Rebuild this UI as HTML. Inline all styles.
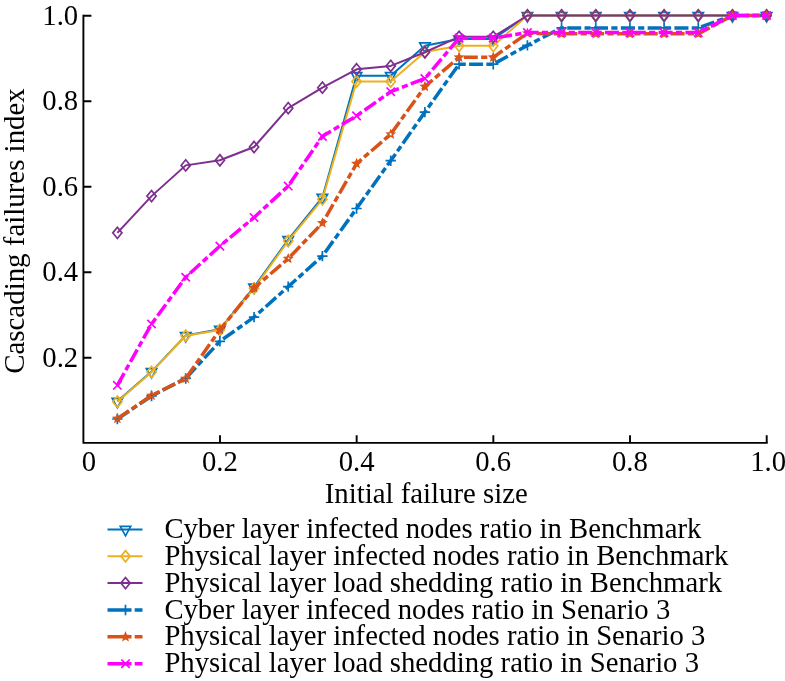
<!DOCTYPE html>
<html lang="en"><head><meta charset="utf-8"><title>Cascading failures index</title>
<style>
html,body{margin:0;padding:0;background:#fff}
svg{display:block}
text{font-family:"Liberation Serif","Times New Roman",serif;font-size:28.7px;fill:#000}
</style></head><body>
<svg width="785" height="681" viewBox="0 0 785 681">
<rect width="785" height="681" fill="#fff"/>

<polyline points="117.37,401.29 151.54,371.62 185.71,335.54 219.88,329.35 254.05,287.07 288.22,239.68 322.39,197.40 356.56,75.71 390.73,75.71 424.90,45.82 459.07,38.99 493.24,38.99 527.41,15.50 561.58,15.50 595.75,15.50 629.92,15.50 664.09,15.50 698.26,15.50 732.43,15.50 766.60,15.50" fill="none" stroke="#0072BD" stroke-width="2.0" stroke-linejoin="round"/>
<path d="M112.17 398.29L122.57 398.29L117.37 407.69Z" fill="none" stroke="#0072BD" stroke-width="1.7" stroke-linejoin="miter"/>
<path d="M146.34 368.62L156.74 368.62L151.54 378.02Z" fill="none" stroke="#0072BD" stroke-width="1.7" stroke-linejoin="miter"/>
<path d="M180.51 332.54L190.91 332.54L185.71 341.94Z" fill="none" stroke="#0072BD" stroke-width="1.7" stroke-linejoin="miter"/>
<path d="M214.68 326.35L225.08 326.35L219.88 335.75Z" fill="none" stroke="#0072BD" stroke-width="1.7" stroke-linejoin="miter"/>
<path d="M248.85 284.07L259.25 284.07L254.05 293.47Z" fill="none" stroke="#0072BD" stroke-width="1.7" stroke-linejoin="miter"/>
<path d="M283.02 236.68L293.42 236.68L288.22 246.08Z" fill="none" stroke="#0072BD" stroke-width="1.7" stroke-linejoin="miter"/>
<path d="M317.19 194.40L327.59 194.40L322.39 203.80Z" fill="none" stroke="#0072BD" stroke-width="1.7" stroke-linejoin="miter"/>
<path d="M351.36 72.71L361.76 72.71L356.56 82.11Z" fill="none" stroke="#0072BD" stroke-width="1.7" stroke-linejoin="miter"/>
<path d="M385.53 72.71L395.93 72.71L390.73 82.11Z" fill="none" stroke="#0072BD" stroke-width="1.7" stroke-linejoin="miter"/>
<path d="M419.70 42.82L430.10 42.82L424.90 52.22Z" fill="none" stroke="#0072BD" stroke-width="1.7" stroke-linejoin="miter"/>
<path d="M453.87 35.99L464.27 35.99L459.07 45.39Z" fill="none" stroke="#0072BD" stroke-width="1.7" stroke-linejoin="miter"/>
<path d="M488.04 35.99L498.44 35.99L493.24 45.39Z" fill="none" stroke="#0072BD" stroke-width="1.7" stroke-linejoin="miter"/>
<path d="M522.21 12.50L532.61 12.50L527.41 21.90Z" fill="none" stroke="#0072BD" stroke-width="1.7" stroke-linejoin="miter"/>
<path d="M556.38 12.50L566.78 12.50L561.58 21.90Z" fill="none" stroke="#0072BD" stroke-width="1.7" stroke-linejoin="miter"/>
<path d="M590.55 12.50L600.95 12.50L595.75 21.90Z" fill="none" stroke="#0072BD" stroke-width="1.7" stroke-linejoin="miter"/>
<path d="M624.72 12.50L635.12 12.50L629.92 21.90Z" fill="none" stroke="#0072BD" stroke-width="1.7" stroke-linejoin="miter"/>
<path d="M658.89 12.50L669.29 12.50L664.09 21.90Z" fill="none" stroke="#0072BD" stroke-width="1.7" stroke-linejoin="miter"/>
<path d="M693.06 12.50L703.46 12.50L698.26 21.90Z" fill="none" stroke="#0072BD" stroke-width="1.7" stroke-linejoin="miter"/>
<path d="M727.23 12.50L737.63 12.50L732.43 21.90Z" fill="none" stroke="#0072BD" stroke-width="1.7" stroke-linejoin="miter"/>
<path d="M761.40 12.50L771.80 12.50L766.60 21.90Z" fill="none" stroke="#0072BD" stroke-width="1.7" stroke-linejoin="miter"/>
<polyline points="117.37,401.72 151.54,372.05 185.71,335.75 219.88,329.90 254.05,288.35 288.22,240.96 322.39,199.32 356.56,81.51 390.73,81.51 424.90,52.01 459.07,45.82 493.24,45.82 527.41,15.50 561.58,15.50 595.75,15.50 629.92,15.50 664.09,15.50 698.26,15.50 732.43,15.50 766.60,15.50" fill="none" stroke="#EDB120" stroke-width="2.0" stroke-linejoin="round"/>
<path d="M117.37 396.12L121.97 401.72L117.37 407.32L112.77 401.72Z" fill="none" stroke="#EDB120" stroke-width="1.7" stroke-linejoin="miter"/>
<path d="M151.54 366.44L156.14 372.05L151.54 377.65L146.94 372.05Z" fill="none" stroke="#EDB120" stroke-width="1.7" stroke-linejoin="miter"/>
<path d="M185.71 330.15L190.31 335.75L185.71 341.35L181.11 335.75Z" fill="none" stroke="#EDB120" stroke-width="1.7" stroke-linejoin="miter"/>
<path d="M219.88 324.30L224.48 329.90L219.88 335.50L215.28 329.90Z" fill="none" stroke="#EDB120" stroke-width="1.7" stroke-linejoin="miter"/>
<path d="M254.05 282.75L258.65 288.35L254.05 293.95L249.45 288.35Z" fill="none" stroke="#EDB120" stroke-width="1.7" stroke-linejoin="miter"/>
<path d="M288.22 235.36L292.82 240.96L288.22 246.56L283.62 240.96Z" fill="none" stroke="#EDB120" stroke-width="1.7" stroke-linejoin="miter"/>
<path d="M322.39 193.72L326.99 199.32L322.39 204.92L317.79 199.32Z" fill="none" stroke="#EDB120" stroke-width="1.7" stroke-linejoin="miter"/>
<path d="M356.56 75.91L361.16 81.51L356.56 87.11L351.96 81.51Z" fill="none" stroke="#EDB120" stroke-width="1.7" stroke-linejoin="miter"/>
<path d="M390.73 75.91L395.33 81.51L390.73 87.11L386.13 81.51Z" fill="none" stroke="#EDB120" stroke-width="1.7" stroke-linejoin="miter"/>
<path d="M424.90 46.41L429.50 52.01L424.90 57.61L420.30 52.01Z" fill="none" stroke="#EDB120" stroke-width="1.7" stroke-linejoin="miter"/>
<path d="M459.07 40.22L463.67 45.82L459.07 51.42L454.47 45.82Z" fill="none" stroke="#EDB120" stroke-width="1.7" stroke-linejoin="miter"/>
<path d="M493.24 40.22L497.84 45.82L493.24 51.42L488.64 45.82Z" fill="none" stroke="#EDB120" stroke-width="1.7" stroke-linejoin="miter"/>
<path d="M527.41 9.90L532.01 15.50L527.41 21.10L522.81 15.50Z" fill="none" stroke="#EDB120" stroke-width="1.7" stroke-linejoin="miter"/>
<path d="M561.58 9.90L566.18 15.50L561.58 21.10L556.98 15.50Z" fill="none" stroke="#EDB120" stroke-width="1.7" stroke-linejoin="miter"/>
<path d="M595.75 9.90L600.35 15.50L595.75 21.10L591.15 15.50Z" fill="none" stroke="#EDB120" stroke-width="1.7" stroke-linejoin="miter"/>
<path d="M629.92 9.90L634.52 15.50L629.92 21.10L625.32 15.50Z" fill="none" stroke="#EDB120" stroke-width="1.7" stroke-linejoin="miter"/>
<path d="M664.09 9.90L668.69 15.50L664.09 21.10L659.49 15.50Z" fill="none" stroke="#EDB120" stroke-width="1.7" stroke-linejoin="miter"/>
<path d="M698.26 9.90L702.86 15.50L698.26 21.10L693.66 15.50Z" fill="none" stroke="#EDB120" stroke-width="1.7" stroke-linejoin="miter"/>
<path d="M732.43 9.90L737.03 15.50L732.43 21.10L727.83 15.50Z" fill="none" stroke="#EDB120" stroke-width="1.7" stroke-linejoin="miter"/>
<path d="M766.60 9.90L771.20 15.50L766.60 21.10L762.00 15.50Z" fill="none" stroke="#EDB120" stroke-width="1.7" stroke-linejoin="miter"/>
<polyline points="117.37,232.84 151.54,196.12 185.71,165.38 219.88,160.25 254.05,147.02 288.22,108.16 322.39,87.66 356.56,69.30 390.73,65.89 424.90,52.22 459.07,36.85 493.24,36.85 527.41,15.50 561.58,15.50 595.75,15.50 629.92,15.50 664.09,15.50 698.26,15.50 732.43,15.50 766.60,15.50" fill="none" stroke="#7E2F8E" stroke-width="2.0" stroke-linejoin="round"/>
<path d="M117.37 227.24L121.97 232.84L117.37 238.44L112.77 232.84Z" fill="none" stroke="#7E2F8E" stroke-width="1.7" stroke-linejoin="miter"/>
<path d="M151.54 190.52L156.14 196.12L151.54 201.72L146.94 196.12Z" fill="none" stroke="#7E2F8E" stroke-width="1.7" stroke-linejoin="miter"/>
<path d="M185.71 159.78L190.31 165.38L185.71 170.98L181.11 165.38Z" fill="none" stroke="#7E2F8E" stroke-width="1.7" stroke-linejoin="miter"/>
<path d="M219.88 154.65L224.48 160.25L219.88 165.85L215.28 160.25Z" fill="none" stroke="#7E2F8E" stroke-width="1.7" stroke-linejoin="miter"/>
<path d="M254.05 141.42L258.65 147.02L254.05 152.62L249.45 147.02Z" fill="none" stroke="#7E2F8E" stroke-width="1.7" stroke-linejoin="miter"/>
<path d="M288.22 102.56L292.82 108.16L288.22 113.76L283.62 108.16Z" fill="none" stroke="#7E2F8E" stroke-width="1.7" stroke-linejoin="miter"/>
<path d="M322.39 82.06L326.99 87.66L322.39 93.26L317.79 87.66Z" fill="none" stroke="#7E2F8E" stroke-width="1.7" stroke-linejoin="miter"/>
<path d="M356.56 63.70L361.16 69.30L356.56 74.90L351.96 69.30Z" fill="none" stroke="#7E2F8E" stroke-width="1.7" stroke-linejoin="miter"/>
<path d="M390.73 60.29L395.33 65.89L390.73 71.49L386.13 65.89Z" fill="none" stroke="#7E2F8E" stroke-width="1.7" stroke-linejoin="miter"/>
<path d="M424.90 46.62L429.50 52.22L424.90 57.82L420.30 52.22Z" fill="none" stroke="#7E2F8E" stroke-width="1.7" stroke-linejoin="miter"/>
<path d="M459.07 31.25L463.67 36.85L459.07 42.45L454.47 36.85Z" fill="none" stroke="#7E2F8E" stroke-width="1.7" stroke-linejoin="miter"/>
<path d="M493.24 31.25L497.84 36.85L493.24 42.45L488.64 36.85Z" fill="none" stroke="#7E2F8E" stroke-width="1.7" stroke-linejoin="miter"/>
<path d="M527.41 9.90L532.01 15.50L527.41 21.10L522.81 15.50Z" fill="none" stroke="#7E2F8E" stroke-width="1.7" stroke-linejoin="miter"/>
<path d="M561.58 9.90L566.18 15.50L561.58 21.10L556.98 15.50Z" fill="none" stroke="#7E2F8E" stroke-width="1.7" stroke-linejoin="miter"/>
<path d="M595.75 9.90L600.35 15.50L595.75 21.10L591.15 15.50Z" fill="none" stroke="#7E2F8E" stroke-width="1.7" stroke-linejoin="miter"/>
<path d="M629.92 9.90L634.52 15.50L629.92 21.10L625.32 15.50Z" fill="none" stroke="#7E2F8E" stroke-width="1.7" stroke-linejoin="miter"/>
<path d="M664.09 9.90L668.69 15.50L664.09 21.10L659.49 15.50Z" fill="none" stroke="#7E2F8E" stroke-width="1.7" stroke-linejoin="miter"/>
<path d="M698.26 9.90L702.86 15.50L698.26 21.10L693.66 15.50Z" fill="none" stroke="#7E2F8E" stroke-width="1.7" stroke-linejoin="miter"/>
<path d="M732.43 9.90L737.03 15.50L732.43 21.10L727.83 15.50Z" fill="none" stroke="#7E2F8E" stroke-width="1.7" stroke-linejoin="miter"/>
<path d="M766.60 9.90L771.20 15.50L766.60 21.10L762.00 15.50Z" fill="none" stroke="#7E2F8E" stroke-width="1.7" stroke-linejoin="miter"/>
<polyline points="117.37,419.01 151.54,395.96 185.71,378.45 219.88,341.30 254.05,317.13 288.22,286.64 322.39,256.11 356.56,208.50 390.73,160.68 424.90,112.13 459.07,64.18 493.24,64.18 527.41,45.39 561.58,27.88 595.75,27.88 629.92,27.88 664.09,27.88 698.26,27.88 732.43,15.50 766.60,15.50" fill="none" stroke="#0072BD" stroke-width="3.5" stroke-dasharray="14 3.3 6.2 3.3" stroke-linejoin="round"/>
<path d="M112.17 419.01H122.57M117.37 413.81V424.21" fill="none" stroke="#0072BD" stroke-width="1.7"/>
<path d="M146.34 395.96H156.74M151.54 390.76V401.16" fill="none" stroke="#0072BD" stroke-width="1.7"/>
<path d="M180.51 378.45H190.91M185.71 373.25V383.65" fill="none" stroke="#0072BD" stroke-width="1.7"/>
<path d="M214.68 341.30H225.08M219.88 336.10V346.50" fill="none" stroke="#0072BD" stroke-width="1.7"/>
<path d="M248.85 317.13H259.25M254.05 311.93V322.33" fill="none" stroke="#0072BD" stroke-width="1.7"/>
<path d="M283.02 286.64H293.42M288.22 281.44V291.84" fill="none" stroke="#0072BD" stroke-width="1.7"/>
<path d="M317.19 256.11H327.59M322.39 250.91V261.31" fill="none" stroke="#0072BD" stroke-width="1.7"/>
<path d="M351.36 208.50H361.76M356.56 203.30V213.70" fill="none" stroke="#0072BD" stroke-width="1.7"/>
<path d="M385.53 160.68H395.93M390.73 155.48V165.88" fill="none" stroke="#0072BD" stroke-width="1.7"/>
<path d="M419.70 112.13H430.10M424.90 106.93V117.33" fill="none" stroke="#0072BD" stroke-width="1.7"/>
<path d="M453.87 64.18H464.27M459.07 58.98V69.38" fill="none" stroke="#0072BD" stroke-width="1.7"/>
<path d="M488.04 64.18H498.44M493.24 58.98V69.38" fill="none" stroke="#0072BD" stroke-width="1.7"/>
<path d="M522.21 45.39H532.61M527.41 40.19V50.59" fill="none" stroke="#0072BD" stroke-width="1.7"/>
<path d="M556.38 27.88H566.78M561.58 22.68V33.08" fill="none" stroke="#0072BD" stroke-width="1.7"/>
<path d="M590.55 27.88H600.95M595.75 22.68V33.08" fill="none" stroke="#0072BD" stroke-width="1.7"/>
<path d="M624.72 27.88H635.12M629.92 22.68V33.08" fill="none" stroke="#0072BD" stroke-width="1.7"/>
<path d="M658.89 27.88H669.29M664.09 22.68V33.08" fill="none" stroke="#0072BD" stroke-width="1.7"/>
<path d="M693.06 27.88H703.46M698.26 22.68V33.08" fill="none" stroke="#0072BD" stroke-width="1.7"/>
<path d="M727.23 15.50H737.63M732.43 10.30V20.70" fill="none" stroke="#0072BD" stroke-width="1.7"/>
<path d="M761.40 15.50H771.80M766.60 10.30V20.70" fill="none" stroke="#0072BD" stroke-width="1.7"/>
<polyline points="117.37,418.59 151.54,395.53 185.71,378.45 219.88,329.77 254.05,287.93 288.22,258.68 322.39,223.02 356.56,163.67 390.73,134.21 424.90,86.60 459.07,57.35 493.24,57.35 527.41,33.22 561.58,33.86 595.75,33.86 629.92,33.86 664.09,33.86 698.26,33.86 732.43,15.50 766.60,15.50" fill="none" stroke="#D95319" stroke-width="3.5" stroke-dasharray="14 3.3 6.2 3.3" stroke-linejoin="round"/>
<path d="M117.37 412.79L118.87 416.53L122.89 416.80L119.80 419.38L120.78 423.28L117.37 421.14L113.96 423.28L114.94 419.38L111.85 416.80L115.87 416.53ZM117.37 416.69L117.81 417.98L119.18 418.00L118.08 418.82L118.49 420.13L117.37 419.34L116.25 420.13L116.66 418.82L115.56 418.00L116.93 417.98Z" fill="#D95319" fill-rule="evenodd" stroke="none"/>
<path d="M151.54 389.73L153.04 393.47L157.06 393.74L153.97 396.32L154.95 400.22L151.54 398.08L148.13 400.22L149.11 396.32L146.02 393.74L150.04 393.47ZM151.54 393.63L151.98 394.92L153.35 394.94L152.25 395.76L152.66 397.07L151.54 396.28L150.42 397.07L150.83 395.76L149.73 394.94L151.10 394.92Z" fill="#D95319" fill-rule="evenodd" stroke="none"/>
<path d="M185.71 372.65L187.21 376.39L191.23 376.66L188.14 379.24L189.12 383.14L185.71 381.00L182.30 383.14L183.28 379.24L180.19 376.66L184.21 376.39ZM185.71 376.55L186.15 377.84L187.52 377.86L186.42 378.68L186.83 379.99L185.71 379.20L184.59 379.99L185.00 378.68L183.90 377.86L185.27 377.84Z" fill="#D95319" fill-rule="evenodd" stroke="none"/>
<path d="M219.88 323.97L221.38 327.71L225.40 327.98L222.31 330.56L223.29 334.46L219.88 332.32L216.47 334.46L217.45 330.56L214.36 327.98L218.38 327.71ZM219.88 327.87L220.32 329.17L221.69 329.18L220.59 330.00L221.00 331.31L219.88 330.52L218.76 331.31L219.17 330.00L218.07 329.18L219.44 329.17Z" fill="#D95319" fill-rule="evenodd" stroke="none"/>
<path d="M254.05 282.13L255.55 285.86L259.57 286.13L256.48 288.71L257.46 292.62L254.05 290.48L250.64 292.62L251.62 288.71L248.53 286.13L252.55 285.86ZM254.05 286.03L254.49 287.32L255.86 287.34L254.76 288.16L255.17 289.46L254.05 288.68L252.93 289.46L253.34 288.16L252.24 287.34L253.61 287.32Z" fill="#D95319" fill-rule="evenodd" stroke="none"/>
<path d="M288.22 252.88L289.72 256.61L293.74 256.88L290.65 259.46L291.63 263.37L288.22 261.23L284.81 263.37L285.79 259.46L282.70 256.88L286.72 256.61ZM288.22 256.78L288.66 258.07L290.03 258.09L288.93 258.91L289.34 260.21L288.22 259.43L287.10 260.21L287.51 258.91L286.41 258.09L287.78 258.07Z" fill="#D95319" fill-rule="evenodd" stroke="none"/>
<path d="M322.39 217.22L323.89 220.96L327.91 221.23L324.82 223.81L325.80 227.71L322.39 225.57L318.98 227.71L319.96 223.81L316.87 221.23L320.89 220.96ZM322.39 221.12L322.83 222.42L324.20 222.43L323.10 223.25L323.51 224.56L322.39 223.77L321.27 224.56L321.68 223.25L320.58 222.43L321.95 222.42Z" fill="#D95319" fill-rule="evenodd" stroke="none"/>
<path d="M356.56 157.87L358.06 161.61L362.08 161.88L358.99 164.46L359.97 168.36L356.56 166.22L353.15 168.36L354.13 164.46L351.04 161.88L355.06 161.61ZM356.56 161.77L357.00 163.06L358.37 163.08L357.27 163.90L357.68 165.21L356.56 164.42L355.44 165.21L355.85 163.90L354.75 163.08L356.12 163.06Z" fill="#D95319" fill-rule="evenodd" stroke="none"/>
<path d="M390.73 128.41L392.23 132.14L396.25 132.41L393.16 134.99L394.14 138.90L390.73 136.76L387.32 138.90L388.30 134.99L385.21 132.41L389.23 132.14ZM390.73 132.31L391.17 133.60L392.54 133.62L391.44 134.44L391.85 135.74L390.73 134.96L389.61 135.74L390.02 134.44L388.92 133.62L390.29 133.60Z" fill="#D95319" fill-rule="evenodd" stroke="none"/>
<path d="M424.90 80.80L426.40 84.53L430.42 84.80L427.33 87.38L428.31 91.29L424.90 89.15L421.49 91.29L422.47 87.38L419.38 84.80L423.40 84.53ZM424.90 84.70L425.34 85.99L426.71 86.01L425.61 86.83L426.02 88.13L424.90 87.35L423.78 88.13L424.19 86.83L423.09 86.01L424.46 85.99Z" fill="#D95319" fill-rule="evenodd" stroke="none"/>
<path d="M459.07 51.55L460.57 55.28L464.59 55.55L461.50 58.13L462.48 62.04L459.07 59.90L455.66 62.04L456.64 58.13L453.55 55.55L457.57 55.28ZM459.07 55.45L459.51 56.74L460.88 56.76L459.78 57.58L460.19 58.88L459.07 58.10L457.95 58.88L458.36 57.58L457.26 56.76L458.63 56.74Z" fill="#D95319" fill-rule="evenodd" stroke="none"/>
<path d="M493.24 51.55L494.74 55.28L498.76 55.55L495.67 58.13L496.65 62.04L493.24 59.90L489.83 62.04L490.81 58.13L487.72 55.55L491.74 55.28ZM493.24 55.45L493.68 56.74L495.05 56.76L493.95 57.58L494.36 58.88L493.24 58.10L492.12 58.88L492.53 57.58L491.43 56.76L492.80 56.74Z" fill="#D95319" fill-rule="evenodd" stroke="none"/>
<path d="M527.41 27.42L528.91 31.16L532.93 31.43L529.84 34.01L530.82 37.91L527.41 35.77L524.00 37.91L524.98 34.01L521.89 31.43L525.91 31.16ZM527.41 31.32L527.85 32.61L529.22 32.63L528.12 33.45L528.53 34.76L527.41 33.97L526.29 34.76L526.70 33.45L525.60 32.63L526.97 32.61Z" fill="#D95319" fill-rule="evenodd" stroke="none"/>
<path d="M561.58 28.06L563.08 31.80L567.10 32.07L564.01 34.65L564.99 38.55L561.58 36.41L558.17 38.55L559.15 34.65L556.06 32.07L560.08 31.80ZM561.58 31.96L562.02 33.25L563.39 33.27L562.29 34.09L562.70 35.40L561.58 34.61L560.46 35.40L560.87 34.09L559.77 33.27L561.14 33.25Z" fill="#D95319" fill-rule="evenodd" stroke="none"/>
<path d="M595.75 28.06L597.25 31.80L601.27 32.07L598.18 34.65L599.16 38.55L595.75 36.41L592.34 38.55L593.32 34.65L590.23 32.07L594.25 31.80ZM595.75 31.96L596.19 33.25L597.56 33.27L596.46 34.09L596.87 35.40L595.75 34.61L594.63 35.40L595.04 34.09L593.94 33.27L595.31 33.25Z" fill="#D95319" fill-rule="evenodd" stroke="none"/>
<path d="M629.92 28.06L631.42 31.80L635.44 32.07L632.35 34.65L633.33 38.55L629.92 36.41L626.51 38.55L627.49 34.65L624.40 32.07L628.42 31.80ZM629.92 31.96L630.36 33.25L631.73 33.27L630.63 34.09L631.04 35.40L629.92 34.61L628.80 35.40L629.21 34.09L628.11 33.27L629.48 33.25Z" fill="#D95319" fill-rule="evenodd" stroke="none"/>
<path d="M664.09 28.06L665.59 31.80L669.61 32.07L666.52 34.65L667.50 38.55L664.09 36.41L660.68 38.55L661.66 34.65L658.57 32.07L662.59 31.80ZM664.09 31.96L664.53 33.25L665.90 33.27L664.80 34.09L665.21 35.40L664.09 34.61L662.97 35.40L663.38 34.09L662.28 33.27L663.65 33.25Z" fill="#D95319" fill-rule="evenodd" stroke="none"/>
<path d="M698.26 28.06L699.76 31.80L703.78 32.07L700.69 34.65L701.67 38.55L698.26 36.41L694.85 38.55L695.83 34.65L692.74 32.07L696.76 31.80ZM698.26 31.96L698.70 33.25L700.07 33.27L698.97 34.09L699.38 35.40L698.26 34.61L697.14 35.40L697.55 34.09L696.45 33.27L697.82 33.25Z" fill="#D95319" fill-rule="evenodd" stroke="none"/>
<path d="M732.43 9.70L733.93 13.44L737.95 13.71L734.86 16.29L735.84 20.19L732.43 18.05L729.02 20.19L730.00 16.29L726.91 13.71L730.93 13.44ZM732.43 13.60L732.87 14.89L734.24 14.91L733.14 15.73L733.55 17.04L732.43 16.25L731.31 17.04L731.72 15.73L730.62 14.91L731.99 14.89Z" fill="#D95319" fill-rule="evenodd" stroke="none"/>
<path d="M766.60 9.70L768.10 13.44L772.12 13.71L769.03 16.29L770.01 20.19L766.60 18.05L763.19 20.19L764.17 16.29L761.08 13.71L765.10 13.44ZM766.60 13.60L767.04 14.89L768.41 14.91L767.31 15.73L767.72 17.04L766.60 16.25L765.48 17.04L765.89 15.73L764.79 14.91L766.16 14.89Z" fill="#D95319" fill-rule="evenodd" stroke="none"/>
<polyline points="117.37,385.28 151.54,324.01 185.71,277.25 219.88,246.08 254.05,217.47 288.22,186.04 322.39,136.34 356.56,115.84 390.73,91.72 424.90,78.48 459.07,38.13 493.24,38.13 527.41,32.58 561.58,32.58 595.75,32.58 629.92,32.58 664.09,32.58 698.26,32.58 732.43,15.50 766.60,15.50" fill="none" stroke="#FF00FF" stroke-width="3.5" stroke-dasharray="14 3.3 6.2 3.3" stroke-linejoin="round"/>
<path d="M113.17 381.08L121.57 389.48M113.17 389.48L121.57 381.08" fill="none" stroke="#FF00FF" stroke-width="1.7"/>
<path d="M147.34 319.81L155.74 328.21M147.34 328.21L155.74 319.81" fill="none" stroke="#FF00FF" stroke-width="1.7"/>
<path d="M181.51 273.05L189.91 281.45M181.51 281.45L189.91 273.05" fill="none" stroke="#FF00FF" stroke-width="1.7"/>
<path d="M215.68 241.88L224.08 250.28M215.68 250.28L224.08 241.88" fill="none" stroke="#FF00FF" stroke-width="1.7"/>
<path d="M249.85 213.27L258.25 221.67M249.85 221.67L258.25 213.27" fill="none" stroke="#FF00FF" stroke-width="1.7"/>
<path d="M284.02 181.84L292.42 190.24M284.02 190.24L292.42 181.84" fill="none" stroke="#FF00FF" stroke-width="1.7"/>
<path d="M318.19 132.14L326.59 140.54M318.19 140.54L326.59 132.14" fill="none" stroke="#FF00FF" stroke-width="1.7"/>
<path d="M352.36 111.64L360.76 120.04M352.36 120.04L360.76 111.64" fill="none" stroke="#FF00FF" stroke-width="1.7"/>
<path d="M386.53 87.52L394.93 95.92M386.53 95.92L394.93 87.52" fill="none" stroke="#FF00FF" stroke-width="1.7"/>
<path d="M420.70 74.28L429.10 82.68M420.70 82.68L429.10 74.28" fill="none" stroke="#FF00FF" stroke-width="1.7"/>
<path d="M454.87 33.93L463.27 42.33M454.87 42.33L463.27 33.93" fill="none" stroke="#FF00FF" stroke-width="1.7"/>
<path d="M489.04 33.93L497.44 42.33M489.04 42.33L497.44 33.93" fill="none" stroke="#FF00FF" stroke-width="1.7"/>
<path d="M523.21 28.38L531.61 36.78M523.21 36.78L531.61 28.38" fill="none" stroke="#FF00FF" stroke-width="1.7"/>
<path d="M557.38 28.38L565.78 36.78M557.38 36.78L565.78 28.38" fill="none" stroke="#FF00FF" stroke-width="1.7"/>
<path d="M591.55 28.38L599.95 36.78M591.55 36.78L599.95 28.38" fill="none" stroke="#FF00FF" stroke-width="1.7"/>
<path d="M625.72 28.38L634.12 36.78M625.72 36.78L634.12 28.38" fill="none" stroke="#FF00FF" stroke-width="1.7"/>
<path d="M659.89 28.38L668.29 36.78M659.89 36.78L668.29 28.38" fill="none" stroke="#FF00FF" stroke-width="1.7"/>
<path d="M694.06 28.38L702.46 36.78M694.06 36.78L702.46 28.38" fill="none" stroke="#FF00FF" stroke-width="1.7"/>
<path d="M728.23 11.30L736.63 19.70M728.23 19.70L736.63 11.30" fill="none" stroke="#FF00FF" stroke-width="1.7"/>
<path d="M762.40 11.30L770.80 19.70M762.40 19.70L770.80 11.30" fill="none" stroke="#FF00FF" stroke-width="1.7"/>
<path d="M83.4 14.8V442.9H767.7" fill="none" stroke="#000" stroke-width="1.9" stroke-linejoin="miter"/>
<path d="M83.4 357.80H91.4M219.98 442.9V435.2M83.4 272.30H91.4M356.66 442.9V435.2M83.4 186.80H91.4M493.34 442.9V435.2M83.4 101.30H91.4M630.02 442.9V435.2M83.4 15.80H91.4M766.70 442.9V435.2" fill="none" stroke="#000" stroke-width="1.9"/>
<text x="78.2" y="366.8" text-anchor="end">0.2</text>
<text x="219.9" y="470.7" text-anchor="middle">0.2</text>
<text x="78.2" y="281.3" text-anchor="end">0.4</text>
<text x="356.6" y="470.7" text-anchor="middle">0.4</text>
<text x="78.2" y="195.8" text-anchor="end">0.6</text>
<text x="493.2" y="470.7" text-anchor="middle">0.6</text>
<text x="78.2" y="110.3" text-anchor="end">0.8</text>
<text x="629.9" y="470.7" text-anchor="middle">0.8</text>
<text x="78.2" y="24.8" text-anchor="end">1.0</text>
<text x="768.1" y="470.7" text-anchor="middle">1.0</text>
<text x="89" y="470.7" text-anchor="middle">0</text>
<text x="426.3" y="503" text-anchor="middle" style="font-size:28.8px">Initial failure size</text>
<text transform="translate(23.6 231) rotate(-90)" text-anchor="middle" style="font-size:28.9px">Cascading failures index</text>
<path d="M107.5 529.40H142.5" fill="none" stroke="#0072BD" stroke-width="2.0"/>
<path d="M120.30 526.40L130.70 526.40L125.50 535.80Z" fill="none" stroke="#0072BD" stroke-width="1.7" stroke-linejoin="miter"/>
<text x="164.4" y="538.4">Cyber layer infected nodes ratio in Benchmark</text>
<path d="M107.5 556.26H142.5" fill="none" stroke="#EDB120" stroke-width="2.0"/>
<path d="M125.50 550.66L130.10 556.26L125.50 561.86L120.90 556.26Z" fill="none" stroke="#EDB120" stroke-width="1.7" stroke-linejoin="miter"/>
<text x="164.4" y="565.1">Physical layer infected nodes ratio in Benchmark</text>
<path d="M107.5 583.12H142.5" fill="none" stroke="#7E2F8E" stroke-width="2.0"/>
<path d="M125.50 577.52L130.10 583.12L125.50 588.72L120.90 583.12Z" fill="none" stroke="#7E2F8E" stroke-width="1.7" stroke-linejoin="miter"/>
<text x="164.4" y="591.8">Physical layer load shedding ratio in Benchmark</text>
<path d="M107.5 609.98H142.5" fill="none" stroke="#0072BD" stroke-width="3.5" stroke-dasharray="24 3.2 8 10"/>
<path d="M120.30 609.98H130.70M125.50 604.78V615.18" fill="none" stroke="#0072BD" stroke-width="1.7"/>
<text x="164.4" y="618.6">Cyber layer infeced nodes ratio in Senario 3</text>
<path d="M107.5 636.84H142.5" fill="none" stroke="#D95319" stroke-width="3.5" stroke-dasharray="24 3.2 8 10"/>
<path d="M125.50 631.04L127.00 634.78L131.02 635.05L127.93 637.63L128.91 641.53L125.50 639.39L122.09 641.53L123.07 637.63L119.98 635.05L124.00 634.78ZM125.50 634.94L125.94 636.23L127.31 636.25L126.21 637.07L126.62 638.38L125.50 637.59L124.38 638.38L124.79 637.07L123.69 636.25L125.06 636.23Z" fill="#D95319" fill-rule="evenodd" stroke="none"/>
<text x="164.4" y="645.3">Physical layer infected nodes ratio in Senario 3</text>
<path d="M107.5 663.70H142.5" fill="none" stroke="#FF00FF" stroke-width="3.5" stroke-dasharray="24 3.2 8 10"/>
<path d="M121.30 659.50L129.70 667.90M121.30 667.90L129.70 659.50" fill="none" stroke="#FF00FF" stroke-width="1.7"/>
<text x="164.4" y="672.0">Physical layer load shedding ratio in Senario 3</text>
</svg></body></html>
